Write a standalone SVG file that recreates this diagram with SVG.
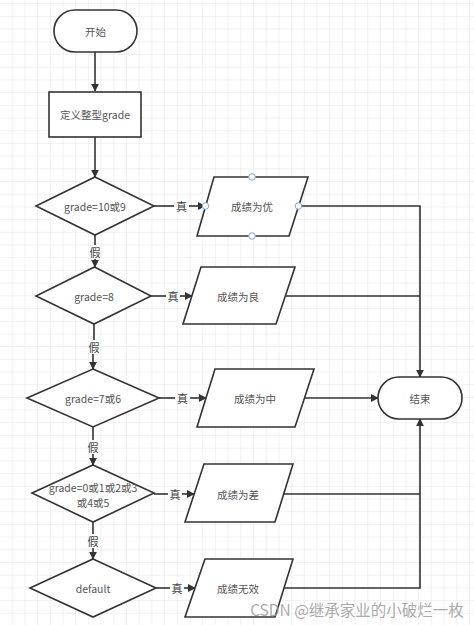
<svg xmlns="http://www.w3.org/2000/svg" width="474" height="625" viewBox="0 0 474 625">
<defs>
<pattern id="grid" x="11.7" y="3.2" width="12.7" height="12.7" patternUnits="userSpaceOnUse">
<path d="M0 0H12.7M0 0V12.7" fill="none" stroke="#e4e4e4" stroke-width="1"/>
</pattern>
<marker id="arr" viewBox="0 0 10 10" refX="9" refY="5" markerWidth="5" markerHeight="5" orient="auto" markerUnits="strokeWidth">
<path d="M0 0L10 5L0 10Z" fill="#333"/>
</marker>
<style>
.s{fill:#fff;stroke:#333;stroke-width:1.6}
.t{font-family:"Noto Sans CJK SC","Noto Sans",sans-serif;font-size:10.5px;fill:#555;text-anchor:middle;dominant-baseline:central}
.l{font-family:"Noto Sans CJK SC",sans-serif;font-size:11px;fill:#444;text-anchor:middle;dominant-baseline:central}
.c{fill:none;stroke:#333;stroke-width:1.6}
.a{marker-end:url(#arr)}
.h{fill:#fff;stroke:#7ea6e0;stroke-width:1}
</style>
</defs>
<rect width="474" height="625" fill="#fff"/>
<rect width="474" height="625" fill="url(#grid)"/>

<g id="connectors">
<path class="c a" d="M95 52V91"/>
<path class="c a" d="M95 137V177"/>
<path class="c" d="M95 235V245"/>
<path class="c a" d="M95 259V267"/>
<path class="c" d="M94 324V340"/>
<path class="c a" d="M93 354V369"/>
<path class="c" d="M93 427V440"/>
<path class="c a" d="M93 454V465"/>
<path class="c" d="M93 522V534"/>
<path class="c a" d="M93 548V559"/>
<path class="c" d="M154 206H174"/>
<path class="c a" d="M189 206H205"/>
<path class="c" d="M151 296H166"/>
<path class="c a" d="M180 296H192"/>
<path class="c" d="M159 398H175"/>
<path class="c a" d="M190 398H206"/>
<path class="c" d="M154 494H168"/>
<path class="c a" d="M182 494H194"/>
<path class="c" d="M156 588H170"/>
<path class="c a" d="M184 588H195"/>
<path class="c a" d="M299 206H420V377"/>
<path class="c" d="M286 296H420"/>
<path class="c a" d="M305 398H378"/>
<path class="c" d="M284 494H420"/>
<path class="c a" d="M284 588H420V419"/>
<text class="l" x="95" y="252">假</text>
<text class="l" x="94" y="347">假</text>
<text class="l" x="93" y="447">假</text>
<text class="l" x="93" y="541">假</text>
<text class="l" x="181.5" y="206">真</text>
<text class="l" x="173" y="296">真</text>
<text class="l" x="182.5" y="398">真</text>
<text class="l" x="175" y="494">真</text>
<text class="l" x="177" y="588">真</text>
</g>

<g id="start">
<rect class="s" x="54" y="10" width="83" height="42" rx="21"/>
<text class="t" x="95.5" y="31">开始</text>
</g>
<g id="define">
<rect class="s" x="49" y="92" width="92" height="45"/>
<text class="t" x="95" y="114.5">定义整型grade</text>
</g>
<g id="d1">
<polygon class="s" points="95,177 154,206 95,235 36,206"/>
<text class="t" x="95" y="206">grade=10或9</text>
</g>
<g id="p1">
<polygon class="s" points="214,177 308,177 289,236 197,236"/>
<text class="t" x="252" y="206">成绩为优</text>
<circle class="h" cx="252" cy="177" r="3.3"/>
<circle class="h" cx="252" cy="236" r="3.3"/>
<circle class="h" cx="205.5" cy="206" r="3.3"/>
<circle class="h" cx="298.5" cy="206" r="3.3"/>
</g>
<g id="d2">
<polygon class="s" points="94.5,267 151,296 94,324 36,296"/>
<text class="t" x="94" y="296">grade=8</text>
</g>
<g id="p2">
<polygon class="s" points="201,267 295,267 276,324 183,324"/>
<text class="t" x="238" y="296">成绩为良</text>
</g>
<g id="d3">
<polygon class="s" points="93,369 159,398 93,427 27,398"/>
<text class="t" x="93" y="398">grade=7或6</text>
</g>
<g id="p3">
<polygon class="s" points="215,369 314,369 295,427 197,427"/>
<text class="t" x="255" y="398">成绩为中</text>
</g>
<g id="end">
<rect class="s" x="378" y="377" width="84" height="42" rx="21"/>
<text class="t" x="420" y="398">结束</text>
</g>
<g id="d4">
<polygon class="s" points="93,465 154,493 93,522 32,493"/>
<text class="t" x="93" y="487.5">grade=0或1或2或3</text>
<text class="t" x="93" y="502">或4或5</text>
</g>
<g id="p4">
<polygon class="s" points="204,464 293,464 275,522 185,522"/>
<text class="t" x="238" y="494">成绩为差</text>
</g>
<g id="d5">
<polygon class="s" points="93,559 156,588 93,617 30,588"/>
<text class="t" x="93" y="588">default</text>
</g>
<g id="p5">
<polygon class="s" points="205,559 293,559 275,617 185,617"/>
<text class="t" x="238" y="588">成绩无效</text>
</g>
<text x="357" y="609" font-family="Noto Sans CJK SC,sans-serif" font-size="15.5" fill="#9a9a9a" fill-opacity="0.85" text-anchor="middle" dominant-baseline="central">CSDN @继承家业的小破烂一枚</text>
</svg>
